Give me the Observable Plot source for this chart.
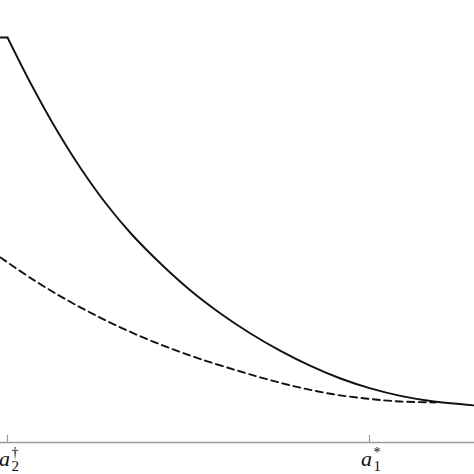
<!DOCTYPE html>
<html>
<head>
<meta charset="utf-8">
<script src="https://cdn.jsdelivr.net/npm/d3@7"></script>
<script src="https://cdn.jsdelivr.net/npm/@observablehq/plot@0.6"></script>
<style>
  html, body { margin: 0; padding: 0; background: #fff; }
  #chart svg { display: block; }
</style>
</head>
<body>
<div id="chart"></div>
<script>
// Values (x in horizontal units, y = height above axis)
const capX = [0, 7];
const capY = [405, 405];
const solidX = [7, 30, 55, 80, 105, 130, 160, 190, 220, 250, 280, 310, 340, 370, 400, 430, 474];
const solidY = [405, 359.5, 314.5, 274.5, 239.5, 209.5, 179, 152, 129, 109, 91.6, 76.6, 64, 54.1, 46.6, 41.5, 37.1];
const dashX = [0, 33, 67, 100, 133, 167, 200, 240, 270, 300, 333, 367, 400, 435];
const dashY = [185, 162.6, 142.2, 124.7, 109.2, 95.3, 83.4, 71, 62.3, 54.8, 48.2, 43.8, 41, 40];
const tickX = [7, 369];
const tickBase = ["a", "a"];
const tickSub = ["2", "1"];
const tickSup = ["†", "*"];

const cap = capX.map((x, i) => ({x, y: capY[i]}));
const solid = solidX.map((x, i) => ({x, y: solidY[i]}));
const dashed = dashX.map((x, i) => ({x, y: dashY[i]}));
const ticks = tickX.map((x, i) => ({x, base: tickBase[i], sub: tickSub[i], sup: tickSup[i]}));

const font = "'Times New Roman', 'Liberation Serif', 'DejaVu Serif', serif";

const chart = Plot.plot({
  width: 474,
  height: 474,
  marginTop: 0,
  marginRight: 0,
  marginBottom: 32,
  marginLeft: 0,
  style: {fontFamily: font, background: "#fff"},
  x: {domain: [0, 474], axis: null},
  y: {domain: [0, 442], axis: null},
  marks: [
    Plot.ruleY([0], {stroke: "#9a9a9a", strokeWidth: 1.5}),
    Plot.ruleX(ticks, {x: "x", y1: 0, y2: 7, stroke: "#9a9a9a", strokeWidth: 1.2}),
    Plot.line(cap, {x: "x", y: "y", stroke: "#111", strokeWidth: 1.9}),
    Plot.line(solid, {x: "x", y: "y", stroke: "#111", strokeWidth: 1.9, curve: "catmull-rom"}),
    Plot.line(dashed, {x: "x", y: "y", stroke: "#111", strokeWidth: 1.9, strokeDasharray: "7,4.5", curve: "catmull-rom"}),
    Plot.text(ticks, {x: "x", y: -23, text: "base", dx: -3, fontSize: 22, fontFamily: font, fontStyle: "italic", textAnchor: "middle", lineAnchor: "bottom", fill: "#111"}),
    Plot.text(ticks, {x: "x", y: -28, text: "sub", dx: 4, fontSize: 15, fontFamily: font, textAnchor: "start", lineAnchor: "bottom", fill: "#111"}),
    Plot.text(ticks, {x: "x", y: -14, text: "sup", dx: 4, fontSize: 14, fontFamily: font, textAnchor: "start", lineAnchor: "bottom", fill: "#111"})
  ]
});
document.getElementById("chart").appendChild(chart);
</script>
</body>
</html>
